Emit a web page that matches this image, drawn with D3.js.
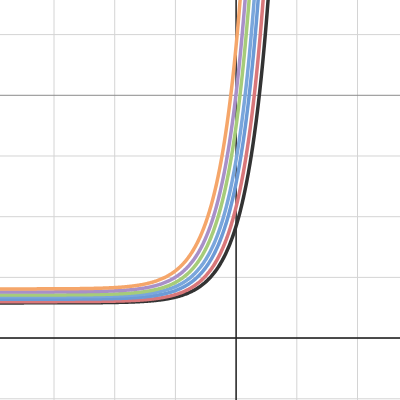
<!DOCTYPE html>
<html><head><meta charset="utf-8">
<script src="https://cdn.jsdelivr.net/npm/d3@7"></script>
<style>body{margin:0;background:#fff}</style></head>
<body><svg id="c" width="400" height="400"></svg>
<script>
// curve parameters: y = base + exp(rate * (x - shift)), shift solved from top crossing
const seriesNames = ["black", "red", "blue2", "blue1", "green", "purple", "orange"];
const seriesColors = ["#333333", "#d9777a", "#6c9bd6", "#7aa6dc", "#a6cc7a", "#a890c8", "#f5a66a"];
const asymptotes = [0.58, 0.60, 0.64, 0.68, 0.71, 0.76, 0.81];
const topCrossX = [0.527, 0.445, 0.363, 0.297, 0.214, 0.148, 0.066];
const rate = 2.6;
const xDomain = [-3.89, 2.70];
const yDomain = [-1.02, 5.57];

const W = 400, H = 400;
const x = d3.scaleLinear().domain(xDomain).range([0, W]);
const y = d3.scaleLinear().domain(yDomain).range([H, 0]);
const svg = d3.select("#c");

// minor grid
const minor = d3.range(-4, 4);
svg.append("g").selectAll("line").data(minor).enter().append("line")
  .attr("x1", d => x(d)).attr("x2", d => x(d)).attr("y1", 0).attr("y2", H)
  .attr("stroke", "#d4d4d4").attr("stroke-width", 1);
svg.append("g").selectAll("line").data(d3.range(-1, 6)).enter().append("line")
  .attr("y1", d => y(d)).attr("y2", d => y(d)).attr("x1", 0).attr("x2", W)
  .attr("stroke", d => d % 4 === 0 ? "#8a8a8a" : "#d4d4d4").attr("stroke-width", 1);
// axes
svg.append("line").attr("x1", x(0)).attr("x2", x(0)).attr("y1", 0).attr("y2", H)
  .attr("stroke", "#222").attr("stroke-width", 1.5);
svg.append("line").attr("y1", y(0)).attr("y2", y(0)).attr("x1", 0).attr("x2", W)
  .attr("stroke", "#222").attr("stroke-width", 1.5);

const xs = d3.range(xDomain[0], xDomain[1], 0.01);
const line = d3.line().x(d => x(d[0])).y(d => y(d[1]));
seriesNames.forEach((name, i) => {
  const c = asymptotes[i];
  const s = topCrossX[i] - Math.log(yDomain[1] - c) / rate;
  const pts = xs.map(v => [v, c + Math.exp(rate * (v - s))]).filter(p => p[1] < 7);
  svg.append("path").datum(pts).attr("d", line).attr("fill", "none")
    .attr("stroke", seriesColors[i]).attr("stroke-width", 3.5);
});
</script></body></html>
